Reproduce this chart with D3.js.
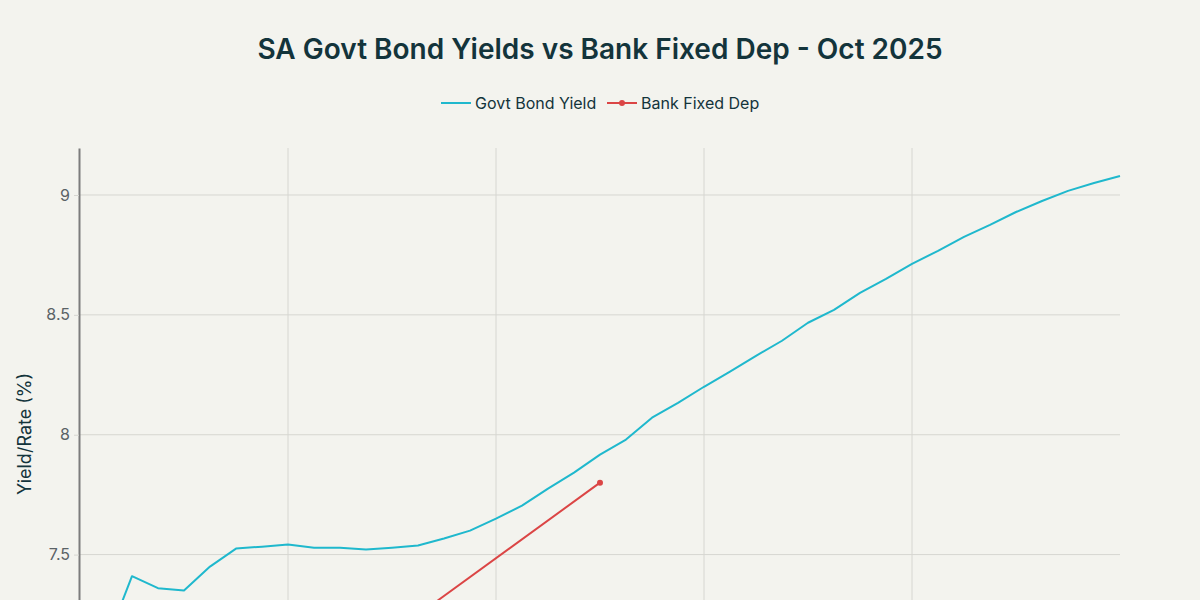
<!DOCTYPE html>
<html>
<head>
<meta charset="utf-8">
<script src="https://cdn.jsdelivr.net/npm/d3@7"></script>
<style>
  html, body { margin: 0; padding: 0; background: #f3f3ee; overflow: hidden; }
  svg { display: block; font-family: Inter, "Open Sans", sans-serif; }
</style>
</head>
<body>
<div id="chart"></div>
<script>
// ── Data ──
const bondTerms = [0.25, 0.5, 0.75, 1, 1.25, 1.5, 1.75, 2, 2.25, 2.5, 2.75, 3, 3.25, 3.5, 3.75, 4,
  4.25, 4.5, 4.75, 5, 5.25, 5.5, 5.75, 6, 6.25, 6.5, 6.75, 7, 7.25, 7.5, 7.75, 8,
  8.25, 8.5, 8.75, 9, 9.25, 9.5, 9.75, 10];
const bondYields = [7.13, 7.41, 7.36, 7.35, 7.45, 7.525, 7.533, 7.542, 7.529, 7.529, 7.521, 7.529, 7.538, 7.567, 7.60, 7.65,
  7.704, 7.775, 7.842, 7.917, 7.98, 8.071, 8.133, 8.20, 8.263, 8.329, 8.392, 8.467, 8.521, 8.592, 8.65, 8.713,
  8.767, 8.825, 8.875, 8.929, 8.975, 9.017, 9.05, 9.079];
const depTerms = [1, 2, 3, 5];
const depRates = [6.6, 6.9, 7.17, 7.8];
const yTicks = [7.5, 8, 8.5, 9];
const xGridTicks = [2, 4, 6, 8];

const colors = { bond: "#1fb8cd", dep: "#db4545", title: "#13343b", text: "#13343b" };

const W = 1200, H = 800;
const margin = { top: 148, right: 80, bottom: 80, left: 80 };

const svg = d3.select("#chart").append("svg")
  .attr("width", W).attr("height", H);

svg.append("rect").attr("width", W).attr("height", H).attr("fill", "#f3f3ee");

const x = d3.scaleLinear().domain([0, 10]).range([margin.left, W - margin.right]);
const y = d3.scaleLinear().domain([6.81, 9.196]).range([H - margin.bottom, margin.top]);

// ── Grid ──
svg.append("g").selectAll("line").data(yTicks).join("line")
  .attr("x1", margin.left).attr("x2", W - margin.right)
  .attr("y1", d => y(d)).attr("y2", d => y(d))
  .attr("stroke", "#d6d6d1").attr("stroke-width", 1);

svg.append("g").selectAll("line").data(xGridTicks).join("line")
  .attr("y1", margin.top).attr("y2", H - margin.bottom)
  .attr("x1", d => x(d)).attr("x2", d => x(d))
  .attr("stroke", "#d6d6d1").attr("stroke-width", 1);

// ── Y axis ──
const yAxis = d3.axisLeft(y).tickValues(yTicks).tickSize(5).tickSizeOuter(0).tickPadding(4)
  .tickFormat(d3.format("~g"));
const gy = svg.append("g").attr("transform", `translate(${margin.left - 1},0)`).call(yAxis);
gy.select(".domain").attr("stroke", "#7c7c7c").attr("stroke-width", 2);
gy.selectAll(".tick line").attr("stroke", "#d6d6d1");
gy.selectAll(".tick text").attr("fill", "#5a6266").attr("font-size", 16)
  .attr("font-family", "Inter, sans-serif");

svg.append("text")
  .attr("transform", `translate(24,${(margin.top + H - margin.bottom) / 2}) rotate(-90)`)
  .attr("text-anchor", "middle").attr("dominant-baseline", "central")
  .attr("font-size", 18).attr("fill", colors.text)
  .text("Yield/Rate (%)");

// ── Lines ──
const line = d3.line().x(d => x(d[0])).y(d => y(d[1]));

const bondData = bondTerms.map((t, i) => [t, bondYields[i]]);
const depData = depTerms.map((t, i) => [t, depRates[i]]);

svg.append("path").datum(bondData).attr("d", line)
  .attr("fill", "none").attr("stroke", colors.bond).attr("stroke-width", 2)
  .attr("stroke-linejoin", "round");

svg.append("path").datum(depData).attr("d", line)
  .attr("fill", "none").attr("stroke", colors.dep).attr("stroke-width", 2);

svg.append("g").selectAll("circle").data(depData).join("circle")
  .attr("cx", d => x(d[0])).attr("cy", d => y(d[1])).attr("r", 3)
  .attr("fill", colors.dep);

// ── Title ──
svg.append("text").attr("x", 600).attr("y", 59)
  .attr("text-anchor", "middle").attr("font-size", 28).attr("font-weight", 600)
  .attr("fill", colors.title).text("SA Govt Bond Yields vs Bank Fixed Dep - Oct 2025");

// ── Legend ──
const legend = svg.append("g").attr("transform", "translate(0,103)");
const items = [
  { label: "Govt Bond Yield", color: colors.bond, x: 441, marker: false },
  { label: "Bank Fixed Dep", color: colors.dep, x: 607, marker: true }
];
items.forEach(it => {
  const g = legend.append("g").attr("transform", `translate(${it.x},0)`);
  g.append("line").attr("x1", 0).attr("x2", 30).attr("stroke", it.color).attr("stroke-width", 2);
  if (it.marker) g.append("circle").attr("cx", 15).attr("r", 3).attr("fill", it.color);
  g.append("text").attr("x", 34).attr("dy", "0.35em").attr("font-size", 16)
    .attr("fill", colors.text).text(it.label);
});
</script>
</body>
</html>
